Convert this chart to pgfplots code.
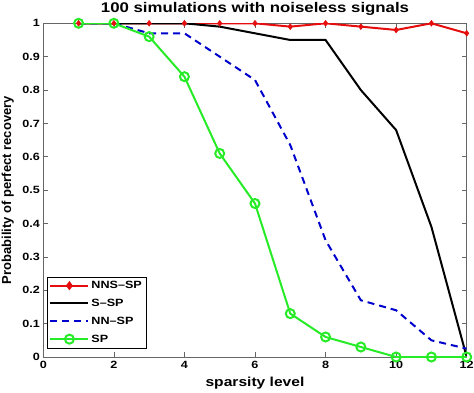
\documentclass[border=0pt]{standalone}
\usepackage{fontspec}
\setmainfont{Liberation Sans}[FakeStretch=1.2]
\newfontfamily\yfont{Liberation Sans}
\usepackage{pgfplots}
\pgfplotsset{compat=1.18}
\definecolor{mred}{rgb}{0.9,0.05,0.05}
\definecolor{mgreen}{rgb}{0.15,0.92,0.15}
\definecolor{mblue}{rgb}{0,0,0.8}
\begin{document}
\begin{tikzpicture}
\useasboundingbox (-43.3pt,-35pt) rectangle (430.7pt,357pt);
\begin{axis}[
  at={(0,0)}, anchor=south west,
  scale only axis, width=423.4pt, height=333.7pt,
  xmin=0, xmax=12, ymin=0, ymax=1,
  xtick={0,2,...,12},
  ytick={0,0.1,...,1},
  yticklabels={0,0.1,0.2,0.3,0.4,0.5,0.6,0.7,0.8,0.9,1},
  tick align=inside,
  tick pos=both,
  major tick length=5pt,
  axis line style={draw=black!60, line width=0.6pt},
  every tick/.style={black!60, line width=0.6pt},
  /pgf/number format/assume math mode=true,
  ticklabel style={font=\fontsize{10.5}{12}\selectfont\bfseries},
  xticklabel style={yshift=-1pt},
  title={\fontsize{14}{16}\selectfont\bfseries 100 simulations with noiseless signals},
  title style={yshift=-2pt},
  xlabel={\fontsize{13}{15}\selectfont\bfseries sparsity level},
  ylabel={\yfont\fontsize{13}{15}\selectfont\bfseries Probability of perfect recovery},
  xlabel style={yshift=-1pt},
  ylabel style={yshift=1.5pt},
  legend style={at={(0.008,0.026)}, anchor=south west, draw=black, line width=0.5pt,
    font=\fontsize{10.5}{13}\selectfont\bfseries, row sep=5pt, inner sep=2.5pt},
  legend cell align=left,
  legend image code/.code={\draw[#1] (0pt,0pt) -- (38pt,0pt) plot coordinates {(19pt,0pt)};},
]
\addlegendimage{mred, line width=2pt, mark=diamond*, mark size=3pt, mark options={solid}}
\addlegendentry{NNS--SP}
\addlegendimage{black, line width=2pt}
\addlegendentry{S--SP}
\addlegendimage{mblue, line width=2pt, dash pattern=on 7pt off 5pt}
\addlegendentry{NN--SP}
\addlegendimage{mgreen, line width=2pt, mark=o, mark size=4.5pt, mark options={solid}}
\addlegendentry{SP}
% NNS-SP line
\addplot[forget plot, mred, line width=2pt] coordinates {
(1,1) (2,1) (3,1) (4,1) (5,1) (6,1) (7,0.99) (8,1) (9,0.99) (10,0.98) (11,1) (12,0.97)};
% S-SP
\addplot[forget plot, black, line width=2pt] coordinates {
(1,1) (2,1) (3,1) (4,1) (5,0.99) (6,0.97) (7,0.95) (8,0.95) (9,0.80) (10,0.68) (11,0.39) (12,0)};
% NN-SP
\addplot[forget plot, mblue, line width=2pt, dash pattern=on 7pt off 5pt] coordinates {
(1,1) (2,1) (3,0.97) (4,0.97) (5,0.90) (6,0.83) (7,0.635) (8,0.35) (9,0.17) (10,0.14) (11,0.05) (12,0.025)};
% NNS-SP markers
\addplot[forget plot, only marks, mred, mark=diamond*, mark size=3pt] coordinates {
(1,1) (2,1) (3,1) (4,1) (5,1) (6,1) (7,0.99) (8,1) (9,0.99) (10,0.98) (11,1) (12,0.97)};
% SP
\addplot[forget plot, mgreen, line width=2pt, mark=o, mark size=4.5pt] coordinates {
(1,1) (2,1) (3,0.96) (4,0.84) (5,0.61) (6,0.46) (7,0.13) (8,0.06) (9,0.03) (10,0) (11,0) (12,0)};
\end{axis}
\end{tikzpicture}
\end{document}
